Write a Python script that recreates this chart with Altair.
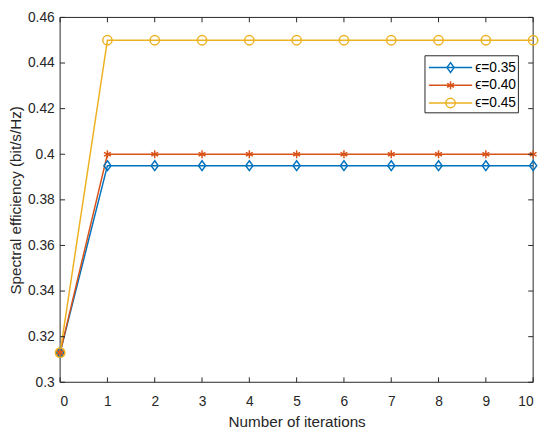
import altair as alt
import pandas as pd

iterations = list(range(11))
eps_labels = ["ϵ=0.35", "ϵ=0.40", "ϵ=0.45"]
se_035 = [0.313, 0.395, 0.395, 0.395, 0.395, 0.395, 0.395, 0.395, 0.395, 0.395, 0.395]
se_040 = [0.313, 0.400, 0.400, 0.400, 0.400, 0.400, 0.400, 0.400, 0.400, 0.400, 0.400]
se_045 = [0.313, 0.450, 0.450, 0.450, 0.450, 0.450, 0.450, 0.450, 0.450, 0.450, 0.450]
x_ticks = list(range(11))
y_ticks = [0.30, 0.32, 0.34, 0.36, 0.38, 0.40, 0.42, 0.44, 0.46]

TOP = 6
W, H = 481, 371
AX = "#262626"
FONT = "Liberation Sans"
colors = ["#0072BD", "#D95319", "#EDB120"]
DIAMOND = "M0,-1L0.72,0L0,1L-0.72,0Z"
ASTER = "M0,-1L0,1M-0.87,-0.5L0.87,0.5M-0.87,0.5L0.87,-0.5"
shapes = [DIAMOND, ASTER, "circle"]
sizes = [100, 64, 90]

xs = alt.Scale(domain=[0, 10], nice=False)
ys = alt.Scale(domain=[0.3, 0.46], nice=False)

x_axis = alt.Axis(values=x_ticks, title="Number of iterations", grid=False, ticks=False,
                  tickSize=0, domain=False, labelPadding=13, titlePadding=6)
y_axis = alt.Axis(values=y_ticks, format="~g", title="Spectral efficiency (bit/s/Hz)",
                  grid=False, ticks=False, tickSize=0, domain=False, labelPadding=6,
                  titlePadding=4)


def X(field):
    return alt.X(field, scale=xs, axis=x_axis)


def Y(field):
    return alt.Y(field, scale=ys, axis=y_axis)


series = [se_035, se_040, se_045]
layers = []

# plot frame
frame = pd.DataFrame({"k": [0]})
layers.append(alt.Chart(frame).mark_rect(fill="white", stroke=AX, strokeWidth=1).encode(
    x=alt.value(0), x2=alt.value(W), y=alt.value(0), y2=alt.value(H)))

for i, vals in enumerate(series):
    df = pd.DataFrame({"it": iterations, "se": vals})
    layers.append(alt.Chart(df).mark_line(color=colors[i], strokeWidth=1.5).encode(
        x=X("it:Q"), y=Y("se:Q")))

# start point marker (filled circle seen at iteration 0)
start_df = pd.DataFrame({"it": iterations[:1], "se": se_045[:1]})
layers.append(alt.Chart(start_df).mark_point(shape="circle", filled=True, color=colors[2],
                                             opacity=1, size=110).encode(
    x=X("it:Q"), y=Y("se:Q")))

for i, vals in enumerate(series):
    df = pd.DataFrame({"it": iterations, "se": vals})
    layers.append(alt.Chart(df).mark_point(shape=shapes[i], filled=False, color=colors[i],
                                           strokeWidth=1.5, size=sizes[i], opacity=1).encode(
        x=X("it:Q"), y=Y("se:Q")))

# inside ticks on all four sides
xt = pd.DataFrame({"it": x_ticks})
yt = pd.DataFrame({"se": y_ticks})
layers.append(alt.Chart(xt).mark_rule(color=AX, strokeWidth=1).encode(
    x=X("it:Q"), y=alt.value(H), y2=alt.value(H - 5)))
layers.append(alt.Chart(xt).mark_rule(color=AX, strokeWidth=1).encode(
    x=X("it:Q"), y=alt.value(0), y2=alt.value(5)))
layers.append(alt.Chart(yt).mark_rule(color=AX, strokeWidth=1).encode(
    y=Y("se:Q"), x=alt.value(0), x2=alt.value(5)))
layers.append(alt.Chart(yt).mark_rule(color=AX, strokeWidth=1).encode(
    y=Y("se:Q"), x=alt.value(W), x2=alt.value(W - 5)))

# legend box
LX0, LX1, LY0, LY1 = 371, 466, 45 - TOP, 103 - TOP
box = pd.DataFrame({"k": [0]})
layers.append(alt.Chart(box).mark_rect(fill="white", stroke=AX, strokeWidth=1).encode(
    x=alt.value(LX0), x2=alt.value(LX1), y=alt.value(LY0), y2=alt.value(LY1)))
for i, lab in enumerate(eps_labels):
    ld = pd.DataFrame({"label": [lab]})
    yy = 57 - TOP + 18 * i
    layers.append(alt.Chart(ld).mark_rule(color=colors[i], strokeWidth=1.5).encode(
        x=alt.value(375), x2=alt.value(419), y=alt.value(yy)))
    layers.append(alt.Chart(ld).mark_point(shape=shapes[i], filled=False, color=colors[i],
                                           strokeWidth=1.5, size=sizes[i], opacity=1).encode(
        x=alt.value(397), y=alt.value(yy)))
    layers.append(alt.Chart(ld).mark_text(align="left", baseline="middle", font=FONT,
                                          fontSize=14, color="black").encode(
        x=alt.value(422), y=alt.value(yy), text="label:N"))

chart = alt.layer(*layers).properties(
    width=W, height=H,
    background="white",
    autosize=alt.AutoSizeParams(type="none"),
    padding={"left": 53, "top": TOP, "right": 9, "bottom": 48},
).configure_view(stroke=None).configure_axis(
    labelFont=FONT, titleFont=FONT, labelFontSize=14, titleFontSize=15.5,
    labelColor=AX, titleColor=AX, titleFontWeight="normal",
)

chart.save("out.html", embed_options={"renderer": "svg", "actions": False})
